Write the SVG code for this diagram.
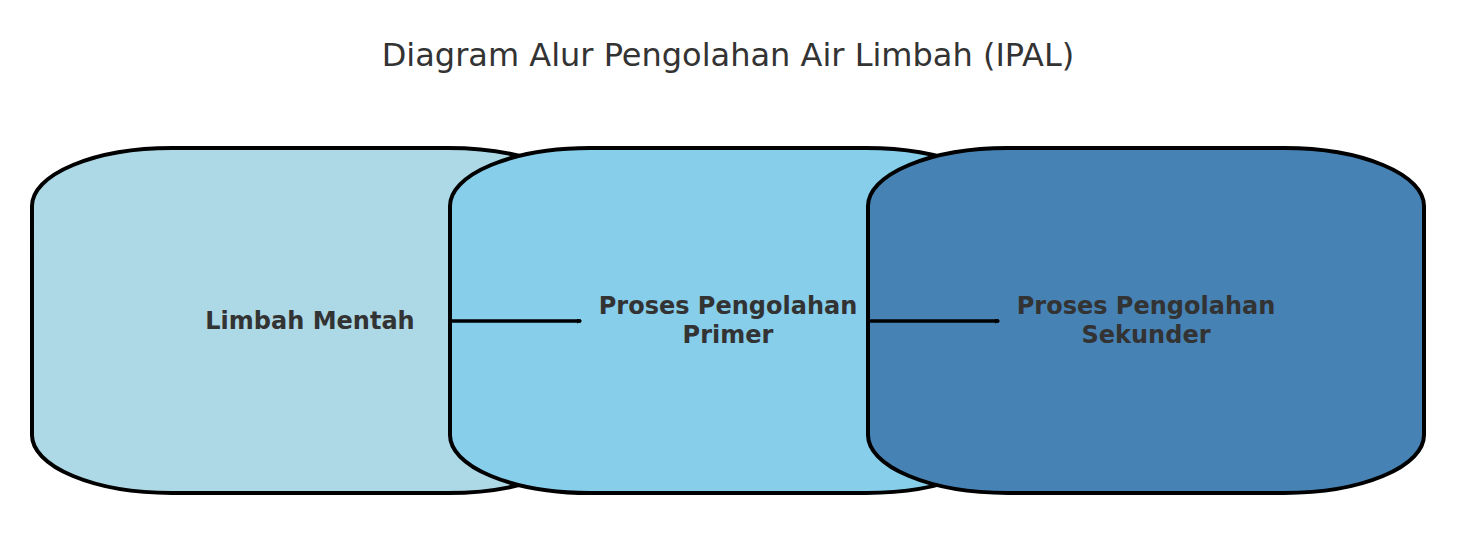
<svg xmlns="http://www.w3.org/2000/svg" width="1461" height="533" viewBox="0 0 1461 533">
<style>
.box{stroke:#000;stroke-width:4}
.lbl{font-family:"DejaVu Sans",sans-serif;font-weight:bold;font-size:24px;fill:#333;text-anchor:middle}
.title{font-family:"DejaVu Sans",sans-serif;font-size:32px;fill:#333;text-anchor:middle}
.conn{stroke:#000;stroke-width:3.5;fill:none}
</style>
<defs><marker id="ah" viewBox="0 0 10 10" refX="9" refY="5" markerWidth="5" markerHeight="5" orient="auto" markerUnits="userSpaceOnUse"><path d="M1,1 L9,5 L1,9" fill="none" stroke="#000" stroke-width="2.5"/></marker></defs>
<rect width="1461" height="533" fill="#fff"/>
<text class="title" x="728" y="66">Diagram Alur Pengolahan Air Limbah (IPAL)</text>
<g id="n1"><rect class="box" x="32" y="148" width="556" height="345" rx="140" ry="58" fill="#ADD8E6"/><text class="lbl" x="310" y="329">Limbah Mentah</text></g>
<g id="n2"><rect class="box" x="450" y="148" width="556" height="345" rx="140" ry="58" fill="#87CEEB"/><text class="lbl" x="728" y="314">Proses Pengolahan</text><text class="lbl" x="728" y="343">Primer</text></g>
<g id="n3"><rect class="box" x="868" y="148" width="556" height="345" rx="140" ry="58" fill="#4682B4"/><text class="lbl" x="1146" y="314">Proses Pengolahan</text><text class="lbl" x="1146" y="343">Sekunder</text></g>
<g id="connectors">
<line class="conn" x1="452" y1="321" x2="581" y2="321" marker-end="url(#ah)"/>
<line class="conn" x1="870" y1="321" x2="999" y2="321" marker-end="url(#ah)"/>
</g>
</svg>
